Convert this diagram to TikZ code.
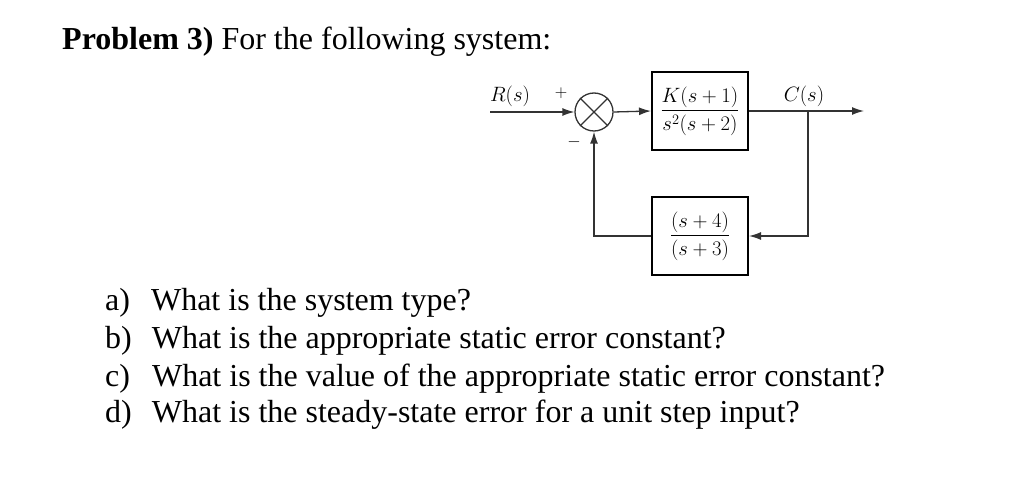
\documentclass[tikz,border=0pt]{standalone}
\usepackage{amsmath}
\usepackage{fontspec}
\setmainfont{Liberation Serif}
\usetikzlibrary{arrows.meta}
\begin{document}
\begin{tikzpicture}[x=1pt,y=-1pt,
  blk/.style={draw,line width=2pt,minimum width=96pt,minimum height=78pt,inner sep=0pt,font=\fontsize{21}{24}\selectfont},
  wire/.style={line width=1.3pt,black!80},
  arr/.style={wire,-{Latex[length=12pt,width=8pt]}},
  qtext/.style={anchor=base west,font=\fontsize{32}{36}\selectfont,inner sep=0pt}]
\useasboundingbox (0,0) rectangle (1024,478);
\node[qtext] (title) at (62,50) {\textbf{Problem 3)} For the following system:};
\node[draw,circle,wire,minimum size=38pt,inner sep=0pt] (sum) at (594,112) {};
\draw[wire] (sum.north west) -- (sum.south east) (sum.north east) -- (sum.south west);
\node[blk] (G) at (700,111) {$\dfrac{K(s+1)}{s^2(s+2)}$};
\node[blk] (H) at (700,236) {$\dfrac{(s+4)}{(s+3)}$};
\coordinate (in) at (490,112);
\coordinate (br) at (808,111);
\coordinate (out) at (864,111);
\draw[arr] (in) -- (sum.west);
\draw[arr] (sum.east) -- (G.west);
\draw[wire] (G.east) -- (br);
\draw[arr] (br) -- (out);
\draw[arr] (br) |- (H.east);
\draw[arr] (H.west) -| (sum.south);
\node[font=\fontsize{21}{24}\selectfont] (R) at (510,96) {$R(s)$};
\node[font=\fontsize{21}{24}\selectfont] (C) at (804,96) {$C(s)$};
\node[font=\fontsize{18}{20}\selectfont] (plus) at (561,93) {$+$};
\node[font=\fontsize{18}{20}\selectfont] (minus) at (574,142) {$-$};
\node[qtext] (a) at (105,310) {a)\hspace{21pt}What is the system type?};
\node[qtext] (b) at (105,348) {b)\hspace{20pt}What is the appropriate static error constant?};
\node[qtext] (c) at (105,386) {c)\hspace{22pt}What is the value of the appropriate static error constant?};
\node[qtext] (d) at (105,422) {d)\hspace{20pt}What is the steady-state error for a unit step input?};
\end{tikzpicture}
\end{document}
